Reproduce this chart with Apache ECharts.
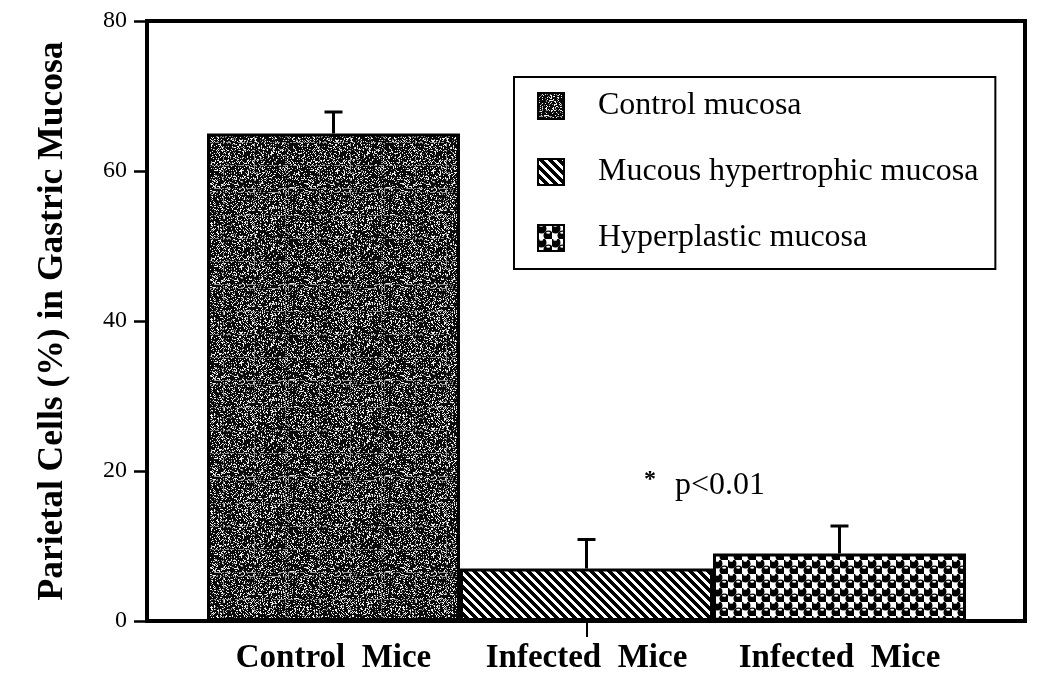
<!DOCTYPE html>
<html>
<head>
<meta charset="utf-8">
<script src="https://cdn.jsdelivr.net/npm/echarts@6/dist/echarts.min.js"></script>
<style>
html,body{margin:0;padding:0;background:#fff;}
#chart{width:1043px;height:682px;}
</style>
</head>
<body>
<div id="chart"></div>
<script>
// ---- data ----
const categories = ['Control  Mice', 'Infected  Mice', 'Infected  Mice'];
const seriesNames = ['Control mucosa', 'Mucous hypertrophic mucosa', 'Hyperplastic mucosa'];
const values = [65, 7, 9];
const errors = [3, 4, 3.8];
const yTicks = [0, 20, 40, 60, 80];
const note = 'p<0.01';

// ---- fill textures ----
function makeCanvas(w, h) {
  const c = document.createElement('canvas');
  c.width = w; c.height = h;
  return c;
}
function stippleTexture() {
  const n = 96;
  const c = makeCanvas(n, n);
  const ctx = c.getContext('2d');
  const img = ctx.createImageData(n, n);
  for (let y = 0; y < n; y++) {
    for (let x = 0; x < n; x++) {
      let h = (x * 374761393 + y * 668265263) | 0;
      h = Math.imul(h ^ (h >>> 13), 1274126177);
      h = (h ^ (h >>> 16)) & 255;
      let g = 10;
      if (h < 48) g = 240; else if (h < 68) g = 140;
      if ((y % 23 === 0 || x % 31 === 0) && h < 150) g = 150;
      const k = (y * n + x) * 4;
      img.data[k] = img.data[k + 1] = img.data[k + 2] = g;
      img.data[k + 3] = 255;
    }
  }
  ctx.putImageData(img, 0, 0);
  return c;
}
function hatchTexture() {
  const n = 9;
  const c = makeCanvas(n, n);
  const ctx = c.getContext('2d');
  const img = ctx.createImageData(n, n);
  for (let y = 0; y < n; y++) {
    for (let x = 0; x < n; x++) {
      const d = ((x - y) % n + n) % n;
      const g = d < 5 ? 0 : 255;
      const k = (y * n + x) * 4;
      img.data[k] = img.data[k + 1] = img.data[k + 2] = g;
      img.data[k + 3] = 255;
    }
  }
  ctx.putImageData(img, 0, 0);
  return c;
}
function dotTexture() {
  const n = 14;
  const c = makeCanvas(n, n);
  const ctx = c.getContext('2d');
  ctx.fillStyle = '#fff';
  ctx.fillRect(0, 0, n, n);
  [[3.5, 3.6], [10.5, 10.6]].forEach(p => {
    ctx.fillStyle = '#000';
    ctx.beginPath(); ctx.arc(p[0], p[1], 5.0, 0, Math.PI * 2); ctx.fill();
    ctx.fillStyle = '#fff';
    ctx.beginPath(); ctx.ellipse(p[0] - 0.3, p[1] - 2.8, 2.0, 1.0, 0, 0, Math.PI * 2); ctx.fill();
  });
  return c;
}
const fills = [
  { image: stippleTexture(), repeat: 'repeat' },
  { image: hatchTexture(), repeat: 'repeat' },
  { image: dotTexture(), repeat: 'repeat' }
];

const serif = 'Liberation Serif, Times New Roman, serif';

const barSeries = seriesNames.map((name, k) => ({
  name: name,
  type: 'bar',
  xAxisIndex: 1,
  yAxisIndex: 1,
  barWidth: '100%',
  barGap: '-100%',
  data: categories.map((c, i) => (i === k ? values[i] : '-')),
  itemStyle: { color: fills[k], borderColor: '#000', borderWidth: 3 },
  z: 2
}));

const errorSeries = {
  type: 'custom',
  xAxisIndex: 1,
  yAxisIndex: 1,
  data: values.map((v, i) => [i, v, errors[i]]),
  z: 5,
  renderItem: function (params, api) {
    const i = api.value(0);
    const v = api.value(1);
    const e = api.value(2);
    const base = api.coord([i, v]);
    const top = api.coord([i, v + e]);
    const style = { stroke: '#000', lineWidth: 3 };
    return {
      type: 'group',
      children: [
        { type: 'line', shape: { x1: base[0], y1: base[1], x2: top[0], y2: top[1] + 1 }, style: style },
        { type: 'line', shape: { x1: top[0] - 9, y1: top[1] + 1, x2: top[0] + 9, y2: top[1] + 1 }, style: style }
      ]
    };
  }
};

const chart = echarts.init(document.getElementById('chart'));
chart.setOption({
  animation: false,
  backgroundColor: '#fff',
  grid: [
    { left: 147, top: 21, right: 18, bottom: 61, show: true, borderColor: '#000', borderWidth: 4, backgroundColor: 'transparent', z: 10 },
    { left: 207, top: 21, right: 77, bottom: 61 }
  ],
  xAxis: [
    { gridIndex: 0, type: 'value', min: 0, max: 1, show: false },
    {
      gridIndex: 1, type: 'category', data: categories, boundaryGap: true,
      axisLine: { show: false },
      axisTick: { show: true, alignWithLabel: true, length: 16, lineStyle: { color: '#000', width: 2 }, interval: function (i) { return i === 1; } },
      axisLabel: { interval: 0, hideOverlap: false, margin: 21, color: '#000', fontFamily: serif, fontWeight: 'bold', fontSize: 33 }
    }
  ],
  yAxis: [
    {
      gridIndex: 0, type: 'value', min: yTicks[0], max: yTicks[yTicks.length - 1], interval: yTicks[1] - yTicks[0],
      name: 'Parietal Cells (%) in Gastric Mucosa', nameLocation: 'middle', nameGap: 76, nameRotate: 90,
      nameTextStyle: { color: '#000', fontFamily: serif, fontWeight: 'bold', fontSize: 35.5 },
      axisLine: { show: false },
      axisTick: { show: true, length: 13, lineStyle: { color: '#000', width: 2.5 } },
      axisLabel: { margin: 20, color: '#000', fontFamily: serif, fontSize: 24 },
      splitLine: { show: false }
    },
    { gridIndex: 1, type: 'value', min: yTicks[0], max: yTicks[yTicks.length - 1], show: false, splitLine: { show: false } }
  ],
  legend: {
    data: seriesNames,
    orient: 'vertical',
    left: 514,
    top: 77,
    padding: [13, 17, 15, 23],
    itemGap: 34,
    itemWidth: 26,
    itemHeight: 26,
    icon: 'rect',
    backgroundColor: '#fff',
    borderColor: '#000',
    borderWidth: 2,
    selectedMode: false,
    itemStyle: { borderColor: '#000', borderWidth: 2 },
    textStyle: { color: '#000', fontFamily: serif, fontSize: 32, lineHeight: 30, padding: [0, 0, 0, 29] }
  },
  graphic: [
    { type: 'text', left: 644, top: 468, style: { text: '*', font: 'bold 24px ' + serif, fill: '#000' } },
    { type: 'text', left: 675, top: 470, style: { text: note, font: '32px ' + serif, fill: '#000' } }
  ],
  series: barSeries.concat([errorSeries])
});
</script>
</body>
</html>
